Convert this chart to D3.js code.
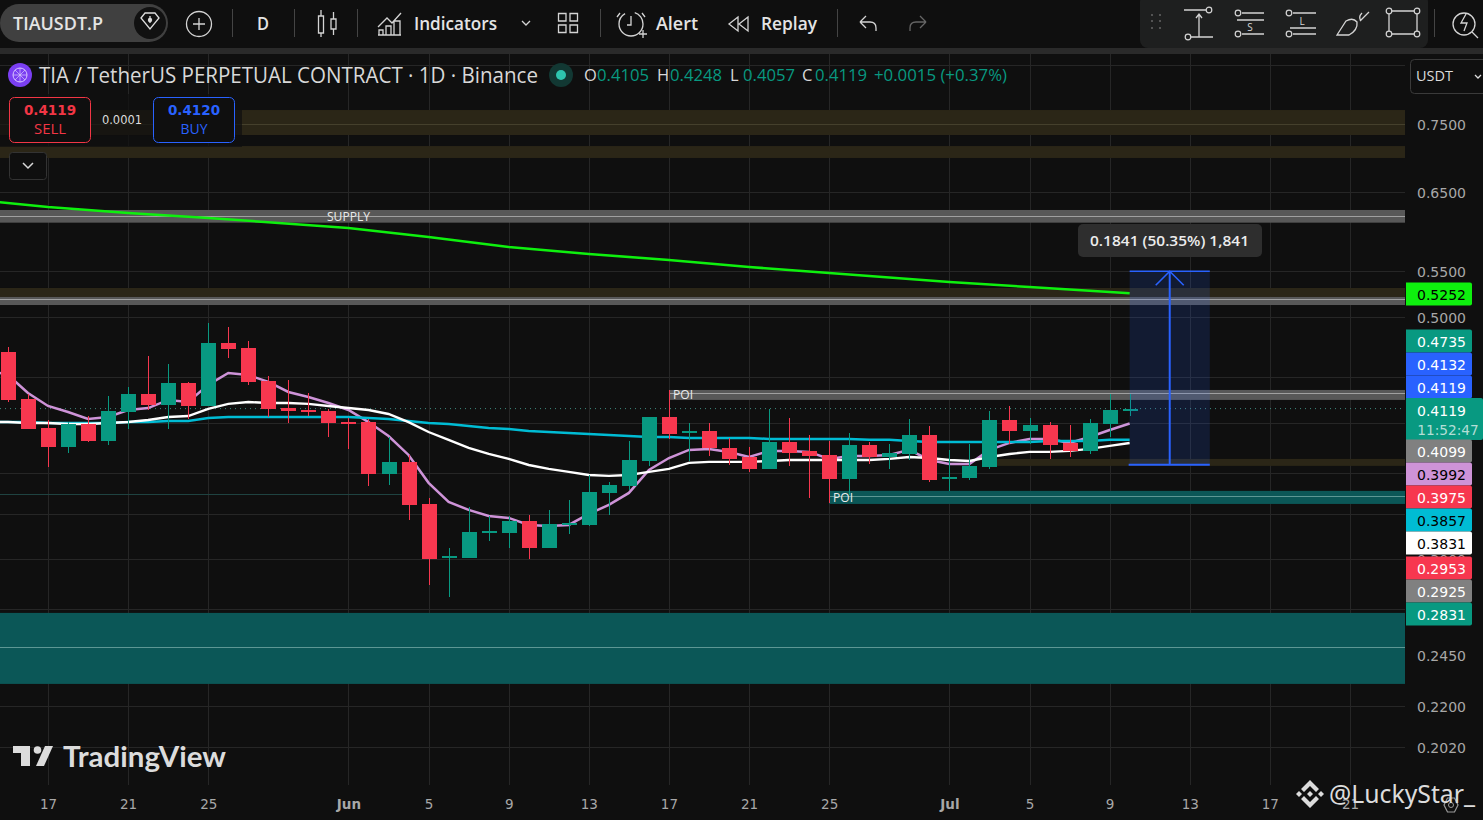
<!DOCTYPE html>
<html>
<head>
<meta charset="utf-8">
<title>TIAUSDT.P</title>
<script src="https://cdn.jsdelivr.net/npm/d3@7"></script>
<style>
  html,body{margin:0;padding:0;background:#0f0f0f;overflow:hidden}
  svg{display:block}
  text{font-family:"Open Sans","Noto Sans",sans-serif}
  .num{font-family:"DejaVu Sans",sans-serif}
</style>
</head>
<body>
<svg id="chart" width="1483" height="820"></svg>
<script>
// candles, May 15 -> Jul 10, one per day
const firstDay = '2026-05-15';
const opens = [.4641,.4204,.3955,.3800,.3988,.3848,.4090,.4248,.4151,.4348,.4142,.4730,.4680,.4366,.4124,.4107,.4098,
  .4004,.4004,.3590,.3682,.3370,.3008,.3008,.3177,.3170,.3251,.3072,.3231,.3224,.3449,.3500,.3689,.4047,.3913,.3930,.3792,.3720,.3628,.3840,.3768,.3736,.3552,.3816,.3720,.3744,.3897,
  .3552,.3560,.3643,.4021,.3930,.3980,.3832,.3768,.3988,.4105];
const highs = [.4690,.4248,.4021,.4004,.4055,.4230,.4311,.4601,.4525,.4357,.4933,.4892,.4750,.4412,.4375,.4257,.4116,
  .4038,.4030,.3880,.3736,.3413,.3072,.3349,.3286,.3286,.3293,.3328,.3398,.3582,.3530,.3848,.4047,.4284,.3996,.3996,.3872,.3800,.4116,.4038,.3897,.3848,.3913,.3840,.3824,.4030,.3971,
  .3776,.3824,.4098,.4142,.4038,.4004,.3980,.4030,.4248,.4248];
const lows = [.4177,.3946,.3643,.3752,.3840,.3816,.3946,.4107,.3946,.4030,.4142,.4582,.4330,.4047,.3996,.4055,.3880,
  .3784,.3500,.3508,.3258,.2842,.2770,.3008,.3117,.3072,.3001,.3072,.3164,.3217,.3293,.3471,.3651,.3864,.3689,.3728,.3658,.3605,.3628,.3651,.3413,.3377,.3434,.3666,.3628,.3697,.3530,
  .3464,.3545,.3628,.3824,.3824,.3705,.3720,.3744,.3880,.4057];
const closes = [.4195,.3946,.3800,.3988,.3848,.4098,.4248,.4151,.4348,.4142,.4730,.4670,.4357,.4116,.4098,.4098,.3996,
  .3996,.3590,.3682,.3363,.3001,.3020,.3177,.3184,.3251,.3072,.3231,.3238,.3456,.3508,.3697,.4047,.3905,.3930,.3792,.3705,.3628,.3840,.3752,.3728,.3552,.3816,.3720,.3752,.3897,.3545,
  .3567,.3651,.4021,.3930,.3980,.3816,.3768,.3996,.4107,.4119];

// moving averages, same days as the candles plus one day before the left edge
const purpleMa = [.4468,.4421,.4257,.4142,.4090,.4030,.4047,.4107,.4124,.4195,.4177,.4330,.4440,.4421,.4357,.4266,.4221,.4168,.4107,
  .4004,.3888,.3736,.3523,.3384,.3328,.3286,.3272,.3224,.3217,.3224,.3300,.3363,.3449,.3620,.3712,.3776,
  .3784,.3760,.3720,.3768,.3768,.3760,.3705,.3728,.3728,.3736,.3776,.3697,.3666,.3666,.3776,.3832,.3864,.3864,.3832,.3880,.3938,.3992];
const whiteMa = [.4004,.4004,.3996,.3996,.3988,.3988,.3996,.4004,.4021,.4047,.4055,.4116,.4160,.4177,.4168,.4168,.4160,.4142,.4124,
  .4107,.4073,.4004,.3921,.3856,.3792,.3744,.3705,.3658,.3628,.3605,.3582,.3575,.3582,.3605,.3628,.3674,
  .3682,.3682,.3682,.3689,.3697,.3697,.3697,.3697,.3697,.3705,.3720,.3712,.3697,.3689,.3720,.3744,.3760,.3760,.3768,.3784,.3808,.3831];
const cyanMa = [.4004,.4004,.4004,.3996,.3996,.3996,.3996,.4004,.4004,.4013,.4013,.4038,.4047,.4047,.4047,.4047,.4047,.4047,.4047,
  .4038,.4030,.4013,.3996,.3988,.3971,.3955,.3946,.3930,.3921,.3913,.3905,.3897,.3888,.3880,.3880,.3872,
  .3872,.3872,.3872,.3864,.3864,.3864,.3864,.3864,.3857,.3857,.3848,.3840,.3840,.3840,.3840,.3840,.3840,.3848,.3848,.3848,.3857,.3857];
const greenDays = ['2026-05-14','2026-05-17','2026-05-21','2026-05-25','2026-06-01','2026-06-05','2026-06-09','2026-06-13','2026-06-17','2026-06-21','2026-06-25','2026-07-01','2026-07-05','2026-07-10'];
const greenMa = [.6378,.6298,.6218,.6154,.6026,.5912,.5789,.5705,.5633,.5550,.5480,.5377,.5321,.5252];

// price zones: [top, bottom, mid line or null, start day or null]
const goldZones = [[.7724,.7328,.7500,null],[.7160,.6982,null,null],[.5310,.5211,null,null],[.3705,.3651,null,'2026-07-03']];
const greyZones = [[.6258,.6093,.6173,null],[.5211,.5123,.5178,null],[.4284,.4195,.4248,'2026-06-17']];
const tealZones = [[.3464,.3370,.3420,'2026-06-25'],[.2679,.2307,.2491,null]];
const thinLevel = .3434, thinLevelEnd = '2026-06-04';
const lastPrice = .4119;
const longEntry = .3659, longTarget = .5500;
const longDays = ['2026-07-10','2026-07-14'];

// axes
const gridTicks = [.85,.75,.65,.55,.5,.44,.4,.36,.33,.3,.27,.245,.22,.202];
const priceTicks = [.75,.65,.55,.5,.3,.245,.22,.202];
const dateTicks = ['2026-05-17','2026-05-21','2026-05-25','2026-06-01','2026-06-05','2026-06-09','2026-06-13','2026-06-17','2026-06-21','2026-06-25','2026-07-01','2026-07-05','2026-07-09','2026-07-13','2026-07-17','2026-07-21'];
const tagValues = [.5252,.4735,.4132,.4119,.4119,.4099,.3992,.3975,.3857,.3831,.2953,.2925,.2831];

const svg = d3.select('#chart');
const W = 1405, TOP = 54, BOTTOM = 785;
const day = s => new Date(s+'T00:00:00Z');
const x = d3.scaleUtc().domain([day('2026-05-17'),day('2026-07-21')]).range([48,1350]);
const y = d3.scaleLog().domain([.75,.202]).range([124,747]);
const GREEN='#089981', RED='#f7374f', BLUE='#2962ff', TXT='#d8d8d8', AXIS='#a8a8a8';

svg.append('defs').append('clipPath').attr('id','plot').append('rect')
  .attr('x',0).attr('y',TOP).attr('width',W).attr('height',BOTTOM-TOP);

// grid
const gridY = svg.append('g').attr('transform',`translate(${W},0)`)
  .call(d3.axisLeft(y).tickValues(gridTicks).tickSize(W).tickFormat(''));
const gridX = svg.append('g').attr('transform',`translate(0,${BOTTOM})`)
  .call(d3.axisBottom(x).tickValues(dateTicks.map(day)).tickSize(TOP-BOTTOM).tickFormat(''));
[gridX,gridY].forEach(g=>{ g.select('.domain').remove(); g.selectAll('line').attr('stroke','#262626').attr('shape-rendering','crispEdges'); });

// zones
const plot = svg.append('g').attr('clip-path','url(#plot)');
function drawZones(list, fill, lineCol){
  list.forEach(z=>{
    const x0 = z[3] ? x(day(z[3])) : 0;
    plot.append('rect').attr('x',x0).attr('width',W-x0).attr('y',y(z[0])).attr('height',y(z[1])-y(z[0])).attr('fill',fill);
    if(z[2]!==null) plot.append('line').attr('x1',x0).attr('x2',W).attr('y1',y(z[2])).attr('y2',y(z[2])).attr('stroke',lineCol).attr('stroke-width',1).attr('shape-rendering','crispEdges');
  });
}
drawZones(goldZones,'#2b2617','#45402c');
drawZones(greyZones,'#585858','#a0a0a0');
drawZones(tealZones,'#0b5757','#5d9794');
plot.append('line').attr('x1',0).attr('x2',x(day(thinLevelEnd))).attr('y1',y(thinLevel)).attr('y2',y(thinLevel))
  .attr('stroke','#1f4341').attr('shape-rendering','crispEdges');
// last price dotted line
plot.append('line').attr('x1',0).attr('x2',W).attr('y1',y(lastPrice)).attr('y2',y(lastPrice))
  .attr('stroke','#3f8c7f').attr('stroke-dasharray','1 4');

// moving averages
const maDays = d3.range(purpleMa.length).map(i=>d3.utcDay.offset(day(firstDay),i-1));
const maLine = d3.line().x((d,i)=>x(maDays[i])).y(d=>y(d));
plot.append('path').attr('d',maLine(purpleMa)).attr('fill','none').attr('stroke','#ce93d8').attr('stroke-width',2.5);
plot.append('path').attr('d',maLine(cyanMa)).attr('fill','none').attr('stroke','#00bcd4').attr('stroke-width',2.5);
plot.append('path').attr('d',maLine(whiteMa)).attr('fill','none').attr('stroke','#ffffff').attr('stroke-width',2.4);
plot.append('path').attr('d',d3.line().x((d,i)=>x(day(greenDays[i]))).y(d=>y(d))(greenMa))
  .attr('fill','none').attr('stroke','#0ef00e').attr('stroke-width',2.5);

// candles
const candles = plot.append('g').attr('shape-rendering','crispEdges').selectAll('g').data(opens).join('g').each(function(o,i){
  const cx = Math.round(x(d3.utcDay.offset(day(firstDay),i)));
  const c = closes[i]>=o ? GREEN : RED;
  const top = Math.round(y(Math.max(o,closes[i]))), bot = Math.round(y(Math.min(o,closes[i])));
  const g = d3.select(this);
  g.append('rect').attr('x',cx).attr('width',1).attr('y',y(highs[i])).attr('height',y(lows[i])-y(highs[i])).attr('fill',c);
  g.append('rect').attr('x',cx-7).attr('width',15).attr('y',top).attr('height',Math.max(2,bot-top)).attr('fill',c);
});

// long position tool
const lx0 = x(day(longDays[0])), lx1 = x(day(longDays[1])), lmid = (lx0+lx1)/2;
svg.append('rect').attr('x',lx0).attr('width',lx1-lx0).attr('y',y(longTarget)).attr('height',y(longEntry)-y(longTarget)).attr('fill','#2962ff').attr('fill-opacity',.15);
svg.append('line').attr('x1',lx0).attr('x2',lx1).attr('y1',y(longTarget)).attr('y2',y(longTarget)).attr('stroke',BLUE).attr('stroke-width',1.6);
svg.append('line').attr('x1',lx0-1).attr('x2',lx1).attr('y1',y(longEntry)).attr('y2',y(longEntry)).attr('stroke',BLUE).attr('stroke-width',2);
svg.append('line').attr('x1',lmid).attr('x2',lmid).attr('y1',y(longTarget)).attr('y2',y(longEntry)).attr('stroke',BLUE).attr('stroke-width',2);
svg.append('path').attr('d',`M${lmid-14},${y(longTarget)+14}L${lmid},${y(longTarget)}L${lmid+14},${y(longTarget)+14}`).attr('fill','none').attr('stroke',BLUE).attr('stroke-width',1.6);
svg.append('rect').attr('x',1078).attr('y',224).attr('width',184).attr('height',33).attr('rx',5).attr('fill','#2e2e2e');
svg.append('text').attr('x',1090).attr('y',246).attr('fill','#ececec').attr('font-size',15).attr('font-weight',600).attr('textLength',159).attr('lengthAdjust','spacingAndGlyphs').text('0.1841 (50.35%) 1,841');

// zone labels
const zoneLabel = (t,px,py,w)=>svg.append('text').attr('x',px).attr('y',py).attr('fill','#ececec').attr('font-size',12).attr('textLength',w).attr('lengthAdjust','spacingAndGlyphs').text(t);
zoneLabel('SUPPLY',327,220.5,43);
zoneLabel('POI',673,398.5,20);
zoneLabel('POI',833,501.5,20);

// y axis labels
const priceAxis = svg.append('g').attr('transform',`translate(1441.5,1)`)
  .call(d3.axisRight(y).tickValues(priceTicks).tickSize(0).tickPadding(0).tickFormat(d3.format('.4f')));
priceAxis.select('.domain').remove();
priceAxis.selectAll('text').attr('class','num').attr('text-anchor','middle').attr('fill',AXIS).attr('font-size',14);

// time axis labels
const timeAxis = svg.append('g').attr('transform',`translate(0,${BOTTOM})`)
  .call(d3.axisBottom(x).tickValues(dateTicks.map(day)).tickSize(0).tickPadding(14)
    .tickFormat(d=> d.getUTCDate()===1 ? d3.utcFormat('%b')(d) : d.getUTCDate()));
timeAxis.select('.domain').remove();
timeAxis.selectAll('text').attr('class','num').attr('fill',AXIS).attr('font-size',13.5)
  .attr('font-weight',d=>d.getUTCDate()===1?700:400);

// price tags, stacked by the platform so they do not sit at their true price
const tagRows = [294,341,364,387,410,451,474,497,520,543,568,591,614];
const tagFill = ['#0ef00e',GREEN,BLUE,BLUE,GREEN,'#808080','#ce93d8',RED,'#00bcd4','#ffffff',RED,'#808080',GREEN];
const tagText = ['#000','#fff','#fff','#fff','#fff','#fff','#000','#fff','#000','#000','#fff','#fff','#fff'];
const tags = svg.append('g');
tagValues.forEach((v,i)=>{
  const last = i===4;
  tags.append('path').attr('d',()=>{
    const h = last?42:23, t = tagRows[i]-(last?12:11.5), w = last?77:66;
    return `M1406,${t}h${w-2}q2,0 2,2v${h-4}q0,2 -2,2h${-(w-2)}z`;
  }).attr('fill',tagFill[i]);
  tags.append('text').attr('class','num').attr('x',1441.5).attr('y',tagRows[i]+5.5).attr('text-anchor','middle')
    .attr('fill',tagText[i]).attr('font-size',14).text(d3.format('.4f')(v));
});
tags.append('text').attr('class','num').attr('x',1448).attr('y',435).attr('text-anchor','middle').attr('fill','#b3ded6').attr('font-size',13.7).text('11:52:47');

// legend row
svg.append('circle').attr('cx',20).attr('cy',75).attr('r',12).attr('fill','#7b3ff2');
svg.append('circle').attr('cx',20).attr('cy',75).attr('r',7).attr('fill','none').attr('stroke','#d9c8ff').attr('stroke-width',1);
svg.append('path').attr('d','M13,75H27M20,68V82M15,70L25,80M25,70L15,80').attr('stroke','#d9c8ff').attr('stroke-width',.7);
svg.append('text').attr('x',39).attr('y',83).attr('fill',TXT).attr('font-size',21.5).attr('textLength',499).attr('lengthAdjust','spacingAndGlyphs').text('TIA / TetherUS PERPETUAL CONTRACT · 1D · Binance');
svg.append('circle').attr('cx',561).attr('cy',75).attr('r',12).attr('fill','#123833');
svg.append('circle').attr('cx',561).attr('cy',75).attr('r',5).attr('fill','#2ec4ae');
const legend = [['O',584,TXT],['0.4105',597,GREEN],['H',657,TXT],['0.4248',670,GREEN],['L',730,TXT],['0.4057',743,GREEN],['C',802,TXT],['0.4119',815,GREEN],['+0.0015 (+0.37%)',874,GREEN]];
const legendW = {'0.4105':52,'0.4248':52,'0.4057':52,'0.4119':52,'+0.0015 (+0.37%)':133};
legend.forEach(l=>{
  const t = svg.append('text').attr('x',l[1]).attr('y',81).attr('fill',l[2]).attr('font-size',16.5).text(l[0]);
  if(legendW[l[0]]) t.attr('textLength',legendW[l[0]]).attr('lengthAdjust','spacingAndGlyphs');
});

// sell / buy panel
svg.append('rect').attr('x',0).attr('y',94).attr('width',242).attr('height',53).attr('fill','#0f0f0f').attr('fill-opacity',.72);
function tradeBox(bx,col,price,label,lw){
  svg.append('rect').attr('x',bx+.5).attr('y',97.5).attr('width',81).attr('height',45).attr('rx',5).attr('fill','#0f0f0f').attr('stroke',col);
  svg.append('text').attr('class','num').attr('x',bx+41).attr('y',115).attr('text-anchor','middle').attr('fill',col).attr('font-size',13.5).attr('font-weight',700).text(price);
  svg.append('text').attr('x',bx+41-lw/2).attr('y',134).attr('fill',col).attr('font-size',14).attr('textLength',lw).attr('lengthAdjust','spacingAndGlyphs').text(label);
}
tradeBox(9,'#f23645','0.4119','SELL',32);
tradeBox(153,BLUE,'0.4120','BUY',27);
svg.append('text').attr('class','num').attr('x',122).attr('y',124).attr('text-anchor','middle').attr('fill','#dcdcdc').attr('font-size',11.5).text('0.0001');
svg.append('rect').attr('x',9.5).attr('y',152.5).attr('width',37).attr('height',27).attr('rx',3).attr('fill','#0f0f0f').attr('stroke','#333');
svg.append('path').attr('d','M23,163l5,5l5,-5').attr('fill','none').attr('stroke',TXT).attr('stroke-width',1.5);

// top bar
svg.append('rect').attr('x',0).attr('y',0).attr('width',1483).attr('height',48).attr('fill','#0f0f0f');
svg.append('rect').attr('x',0).attr('y',48).attr('width',1483).attr('height',6).attr('fill','#2a2a2a');
svg.append('rect').attr('x',0).attr('y',4).attr('width',168).attr('height',38).attr('rx',19).attr('fill','#404040');
svg.append('circle').attr('cx',150).attr('cy',23).attr('r',16).attr('fill','#111');
svg.append('path').attr('d','M141,18l4,-5h10l4,5l-9,11zM150,16v7').attr('fill','none').attr('stroke','#ddd').attr('stroke-width',1.3);
svg.append('circle').attr('cx',150).attr('cy',20).attr('r',2.2).attr('fill','#ddd');
const barText = (t,px,w,fw)=>svg.append('text').attr('x',px).attr('y',30).attr('fill','#e4e4e4').attr('font-size',18).attr('font-weight',fw||600).attr('textLength',w).attr('lengthAdjust','spacingAndGlyphs').text(t);
barText('TIAUSDT.P',13,90);
barText('D',257,12);
barText('Indicators',414,83);
barText('Alert',656,42);
barText('Replay',761,56);
const icon = (d,col,sw)=>svg.append('path').attr('d',d).attr('fill','none').attr('stroke',col||'#d4d4d4').attr('stroke-width',sw||1.3);
svg.append('circle').attr('cx',199).attr('cy',24).attr('r',12.5).attr('fill','none').attr('stroke','#d4d4d4').attr('stroke-width',1.3);
icon('M193,24h12M199,18v12');
[232,294,357,600,837].forEach(sx=>svg.append('line').attr('x1',sx+.5).attr('x2',sx+.5).attr('y1',9).attr('y2',37).attr('stroke','#444'));
// candle icon
icon('M318.5,16h5v17h-5zM321,10v6M321,33v4M331,19h5v10h-5zM333.5,12v7M333.5,29v6');
// indicators icon
icon('M378,27l9,-9l5,5l9,-10M379,35v-5h4v5M386,35v-9h5v9M394,35v-14h6v14M378,35h23');
icon('M522,21l4,4l4,-4');
// layout icon
icon('M558.5,13.5h7.5v7.5h-7.5zM570,13.5h7.5v7.5H570zM558.5,25h7.5v7.5h-7.5zM570,25h7.5v7.5H570z');
// alert icon
svg.append('circle').attr('cx',631).attr('cy',24).attr('r',12).attr('fill','none').attr('stroke','#d4d4d4').attr('stroke-width',1.3).attr('stroke-dasharray','50 10');
icon('M631,16v9h-4M620,13l-3,4M642,13l3,4M639,34h8M643,30v8');
// replay
icon('M738,17l-9,7l9,7zM748,17l-9,7l9,7z');
icon('M860,22l6,-6M860,22l6,6M860,22h10q6,0 6,6v3');
icon('M926,22l-6,-6M926,22l-6,6M926,22h-10q-6,0 -6,6v3','#666');
// drawing tools group
svg.append('rect').attr('x',1140).attr('y',-6).attr('width',288).attr('height',54).attr('rx',8).attr('fill','#1e1f1f');
svg.append('g').selectAll('circle').data([[1152,15],[1160,15],[1152,21],[1160,21],[1152,28],[1160,28]]).join('circle')
  .attr('cx',d=>d[0]).attr('cy',d=>d[1]).attr('r',1).attr('fill','#666');
icon('M1184,10h22M1199,37V14M1196,18l3,-4l3,4M1188,37h25');
svg.append('g').selectAll('circle').data([[1209,10],[1188,37],[1238,13],[1238,34],[1289,13],[1289,34],[1389,11],[1417,11],[1389,34],[1417,34]]).join('circle')
  .attr('cx',d=>d[0]).attr('cy',d=>d[1]).attr('r',2.8).attr('fill','#1e1f1f').attr('stroke','#d4d4d4').attr('stroke-width',1.2);
icon('M1242,13h22M1237,20h27M1242,34h22');
icon('M1293,13h23M1290,28h26M1293,34h23');
svg.append('text').attr('x',1250).attr('y',31).attr('text-anchor','middle').attr('fill','#d4d4d4').attr('font-size',10).text('S');
svg.append('text').attr('x',1302).attr('y',25).attr('text-anchor','middle').attr('fill','#d4d4d4').attr('font-size',10).text('L');
icon('M1337,35l9,-14q7,-4 11,1q1,8 -8,13zM1360,21l9,-9M1362,13q-4,4 -1,8');
icon('M1392,11h22M1392,34h22M1389,14v17M1417,14v17');
svg.append('line').attr('x1',1434.5).attr('x2',1434.5).attr('y1',9).attr('y2',37).attr('stroke','#444');
svg.append('circle').attr('cx',1464).attr('cy',24).attr('r',11).attr('fill','none').attr('stroke','#d4d4d4').attr('stroke-width',1.3);
icon('M1472,32l6,6M1466,14l-5,9h6l-3,8');

// currency box
svg.append('rect').attr('x',1410.5).attr('y',59.5).attr('width',90).attr('height',34).attr('rx',4).attr('fill','#0f0f0f').attr('stroke','#3a3a3a');
svg.append('text').attr('x',1416).attr('y',81).attr('fill','#dcdcdc').attr('font-size',14.5).text('USDT');
icon('M1475,75l3,3l3,-3','#dcdcdc');

// TradingView watermark
svg.append('path').attr('d','M13,746H30V766H21V753H13Z').attr('fill','#dcdcdc');
svg.append('circle').attr('cx',37.5).attr('cy',750).attr('r',3.8).attr('fill','#dcdcdc');
svg.append('path').attr('d','M36,766L45,746H53L44,766Z').attr('fill','#dcdcdc');
svg.append('text').attr('x',63).attr('y',767).attr('fill','#dcdcdc').attr('font-size',28).attr('font-weight',700).style('font-family','Lato,Inter,sans-serif').attr('textLength',163).attr('lengthAdjust','spacingAndGlyphs').text('TradingView');

// settings icon under the author mark
svg.append('path').attr('d','M1444,805l3.5,-7h7l3.5,7l-3.5,7h-7z').attr('fill','none').attr('stroke','#9a9a9a').attr('stroke-width',1.2);
svg.append('circle').attr('cx',1451).attr('cy',805).attr('r',2.5).attr('fill','none').attr('stroke','#9a9a9a');
// author watermark
svg.append('path').attr('d','M1310,780l9,9l-3,3l-6,-6l-6,6l-3,-3zM1310,808l9,-9l-3,-3l-6,6l-6,-6l-3,3z').attr('fill','#dcdcdc');
[[1299,794],[1321,794],[1310,794]].forEach(p=>{
  svg.append('path').attr('d',`M${p[0]},${p[1]-3}l3,3l-3,3l-3,-3z`).attr('fill','#dcdcdc');
});
svg.append('text').attr('x',1329).attr('y',803).attr('fill','#dcdcdc').attr('font-size',25).style('font-family','"Noto Sans",sans-serif').attr('textLength',146).attr('lengthAdjust','spacingAndGlyphs').text('@LuckyStar_');
</script>
</body>
</html>
